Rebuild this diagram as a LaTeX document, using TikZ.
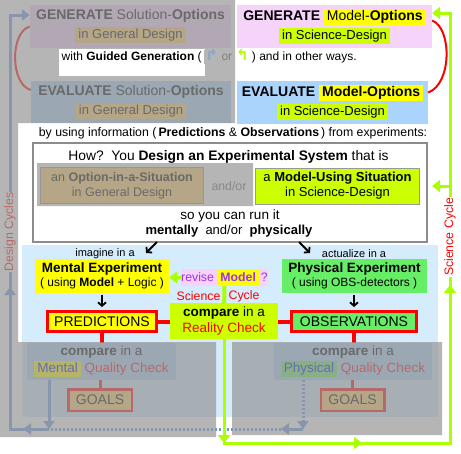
\documentclass[tikz,border=0pt]{standalone}
\usepackage{fontspec}
\setmainfont{Liberation Sans}
\newfontfamily\symfont{DejaVu Sans}
\usetikzlibrary{arrows.meta,positioning}
\definecolor{genpink}{RGB}{246,212,250}
\definecolor{evalblue}{RGB}{170,212,252}
\definecolor{hiyellow}{RGB}{255,255,0}
\definecolor{scilime}{RGB}{204,255,0}
\definecolor{cycgreen}{RGB}{170,255,0}
\definecolor{physgreen}{RGB}{102,238,102}
\definecolor{panelblue}{RGB}{212,236,252}
\definecolor{gentan}{RGB}{255,205,100}
\definecolor{dsnblue}{RGB}{100,150,230}
\definecolor{dsnveil}{RGB}{140,165,205}
\definecolor{revpink}{RGB}{248,210,250}
\definecolor{revpurple}{RGB}{160,50,235}
\definecolor{veil}{RGB}{150,150,150}
\newcommand{\bodytxt}{\fontsize{13.5}{17}\selectfont}
\newcommand{\linetxt}{\fontsize{12.3}{15}\selectfont}
\newcommand{\smalltxt}{\fontsize{11}{13}\selectfont}
\newcommand{\arrowtxt}{\symfont\bfseries\fontsize{15}{15}\selectfont}
\newcommand{\hlbox}[2]{{\setlength{\fboxsep}{1pt}\colorbox{#1}{\rule[-3.5pt]{0pt}{14pt}\hspace{2pt}#2\hspace{2pt}}}}
\tikzset{basic/.style={inner sep=0pt,align=center}}
\tikzset{genbox/.style={basic,fill=genpink,minimum height=43pt,font=\fontsize{14}{19}\selectfont}}
\tikzset{evalbox/.style={basic,fill=evalblue,minimum height=43pt,font=\fontsize{14}{19}\selectfont}}
\tikzset{sitbox/.style={basic,draw=black!40,line width=1pt,minimum height=36pt,font=\fontsize{13}{15}\selectfont}}
\tikzset{expbox/.style={basic,minimum height=34pt,font=\fontsize{13.5}{14}\selectfont}}
\tikzset{result/.style={basic,draw=red,line width=3pt,minimum height=20pt,font=\fontsize{14}{16}\selectfont}}
\tikzset{check/.style={basic,fill=evalblue,minimum height=37pt,font=\fontsize{13.5}{16.5}\selectfont}}
\tikzset{goal/.style={basic,draw=red,line width=2.5pt,fill=gentan,minimum width=63.5pt,minimum height=21.5pt,font=\fontsize{14}{16}\selectfont}}
\tikzset{note/.style={inner sep=0pt}}
\tikzset{gline/.style={inner sep=1.5pt,text height=9pt,text depth=2.5pt,font=\fontsize{12}{15}\selectfont}}
\tikzset{link/.style={draw=red,line width=4pt}}
\tikzset{arrow/.style={draw,line width=1.8pt,>={Straight Barb[length=3.5pt,width=8pt]}}}
\tikzset{sci/.style={draw=cycgreen,line width=3pt,>={Triangle[length=8pt,width=12pt]}}}
\tikzset{dsn/.style={draw=dsnblue,line width=3pt,>={Triangle[length=8pt,width=11pt]}}}
\tikzset{cycname/.style={rotate=90,fill=white,inner sep=1pt,font=\linetxt}}
\tikzset{veiled/.style={fill=veil,fill opacity=0.7}}
\begin{document}
\begin{tikzpicture}[x=1pt,y=-1pt,font=\bodytxt]
\useasboundingbox (0,0) rectangle (461,453);
\fill[white] (0,0) rectangle (461,453);
\fill[panelblue] (22,245) rectangle (438,417);

% generate and evaluate
\node[genbox,minimum width=201pt] (gso) at (130.5,26.5) {\textbf{GENERATE} Solution-\textbf{Options}\\{\fontsize{13}{19}\selectfont\hlbox{gentan}{in General Design}}};
\node[genbox,minimum width=195pt] (gmo) at (334.5,26.5) {\textbf{GENERATE} \hlbox{hiyellow}{Model-\textbf{Options}}\\{\fontsize{13}{19}\selectfont\hlbox{scilime}{in Science-Design}}};
\node[evalbox,minimum width=200pt,minimum height=42pt] (eso) at (131,102) {\textbf{EVALUATE} Solution-\textbf{Options}\\{\fontsize{13}{19}\selectfont\hlbox{gentan}{in General Design}}};
\node[evalbox,minimum width=191pt] (emo) at (332.5,102.5) {\textbf{EVALUATE} \hlbox{hiyellow}{\textbf{Model-Options}}\\{\fontsize{13}{19}\selectfont\hlbox{scilime}{in Science-Design}}};
\draw[red,line width=2pt] (gso.west) .. controls (10,32) and (10,84) .. ([yshift=12pt]eso.west);
\draw[red,line width=2pt] ([yshift=6pt]gmo.east) .. controls (452,28) and (452,84) .. ([yshift=10pt]emo.east);

\node[note,font=\linetxt] (info) at (233,133) {by using information (\,\textbf{Predictions} \& \textbf{Observations}\,) from experiments:};

% experimental system
\node[basic,draw=black!45,line width=2pt,fill=white,minimum width=394pt,minimum height=99pt] (sys) at (230,192.5) {};
\node[note,font=\fontsize{13.8}{16}\selectfont] (how) at (228.5,157) {How?\ \ You \textbf{Design an Experimental System} that is};
\node[sitbox,fill=gentan,minimum width=163pt,font=\fontsize{12.5}{15}\selectfont] (opt) at (122,185.5) {an \textbf{Option-in-a-Situation}\\in General Design};
\node[note,font=\linetxt,text=black!60] (andor) at (229,186) {and/or};
\node[sitbox,fill=scilime,minimum width=164pt] (mus) at (337.5,186) {a \textbf{Model-Using Situation}\\in Science-Design};
\node[note] (run1) at (230,216) {so you can run it};
\node[note,font=\fontsize{13}{15}\selectfont] (run2) at (229,231) {\textbf{mentally}\ \ and/or\ \ \textbf{physically}};

% experiments
\node[note,font=\smalltxt] (imagine) at (105,254) {imagine in a};
\node[note,font=\smalltxt] (actualize) at (354,254) {actualize in a};
\coordinate (imgfrom) at (157,242);
\coordinate (imgto) at (146,253);
\coordinate (actfrom) at (299,242);
\coordinate (actto) at (310,253);
\path[arrow,->] (imgfrom) -- (imgto);
\path[arrow,->] (actfrom) -- (actto);
\node[expbox,fill=hiyellow,minimum width=134pt] (mexp) at (102,276) {\textbf{Mental Experiment}\\{\fontsize{12}{14}\selectfont ( using \textbf{Model} + Logic )}};
\node[expbox,fill=physgreen,minimum width=145pt] (pexp) at (354.5,276) {\textbf{Physical Experiment}\\{\fontsize{12}{14}\selectfont ( using OBS-detectors )}};
\node[result,fill=hiyellow,minimum width=109pt] (pred) at (102,321.5) {PREDICTIONS};
\node[result,fill=physgreen,minimum width=125pt] (obs) at (354,321.5) {OBSERVATIONS};
\path[arrow,->,shorten <=2pt,shorten >=3pt] (mexp) -- (pred);
\path[arrow,->,shorten <=2pt,shorten >=3pt] (pexp.south -| obs) -- (obs);

% reality check
\node[basic,fill=scilime,minimum width=108pt,minimum height=36pt,font=\fontsize{13.5}{16}\selectfont] (cmp) at (224,321) {\textbf{compare} in a\\\textcolor{red}{Reality Check}};
\node[basic,fill=revpink,minimum width=87pt,minimum height=17pt,font=\linetxt,text=revpurple] (rev) at (224.5,277.5) {revise \hlbox{hiyellow}{\textbf{Model}}\,?};
\node[note,text=red,font=\linetxt] (sciw) at (198.5,296) {Science};
\node[note,text=red,font=\linetxt] (cycw) at (244,296) {Cycle};
\draw[sci,line width=4pt] (rev) -- (cmp);
\draw[sci,->] (rev.west) -- (rev.west -| mexp.east);
\draw[link] (pred.east) -- (pred.east -| cmp.west);
\draw[link] (cmp.east |- obs.west) -- (obs.west);

% quality checks
\node[check,minimum width=149pt] (cmpm) at (101.5,361.5) {\textbf{compare} in a\\\hlbox{hiyellow}{\textcolor{blue}{Mental}} \textcolor{red}{Quality Check}};
\node[goal] (goalm) at (100,400) {GOALS};
\node[check,minimum width=158pt] (cmpp) at (353,361.5) {\textbf{compare} in a\\\hlbox{physgreen}{\textcolor{blue}{Physical}} \textcolor{red}{Quality Check}};
\node[goal] (goalp) at (352.5,400) {GOALS};
\draw[link] (pred.south) -- (pred.south |- cmpm.north);
\draw[link] (obs.south) -- (obs.south |- cmpp.north);
\draw[link,line width=3pt] (cmpm.south -| goalm.north) -- (goalm.north);
\draw[link,line width=3pt] (cmpp.south -| goalp.north) -- (goalp.north);

% design cycles
\coordinate (dm) at (49,429);
\coordinate (dl) at (10,429);
\coordinate (dt) at (10,15);
\coordinate (dp) at (303,429);
\coordinate (dlarr) at (23,429);
\coordinate (duarr) at (10,287);
\coordinate (dparr) at (281,429);
\draw[dsn,->] (dm) -- (dl) -- (dt) -- (gso.west |- dt);
\draw[dsn,->] (dm) -- (dlarr);
\draw[dsn,->] (dl) -- (duarr);
\draw[dsn,->] (cmpm.south -| dm) -- (dm);
\draw[dsn,dash pattern=on 2pt off 2pt] (dparr) -- (dm);
\draw[dsn,->] (dp) -- (dparr);
\draw[dsn,->,dash pattern=on 2pt off 2pt] (cmpp.south -| dp) -- (dp);
\node[cycname,text=red] (dsnname) at (10,232) {Design Cycles};

% science cycle
\coordinate (sc1) at (224,443);
\coordinate (sc2) at (450,443);
\coordinate (sc3) at (450,13);
\coordinate (scarr1) at (362,443);
\coordinate (scarr2) at (450,285);
\coordinate (scbr) at (450,186);
\draw[sci,->] (cmp.south) -- (sc1) -- (sc2) -- (sc3) -- (gmo.east |- sc3);
\draw[sci,->] (cmp.south) -- (sc1);
\draw[sci,->] (sc1) -- (scarr1);
\draw[sci,->] (sc2) -- (scarr2);
\draw[sci,->,shorten >=4pt] (scbr) -- (sys.east |- scbr);
\node[cycname,text=red] (sciname) at (450,237) {Science Cycle};

% grey veil over the design side
\fill[veiled] (0,0) rectangle (235,123) (0,123) rectangle (18,437) (18,342) rectangle (216,437) (232,342) rectangle (442,435) (37,163) rectangle (253,206);

% guided generation line
\fill[white] (59,49) rectangle (205,76);
\node[gline,anchor=west] (g1) at (60,57) {with \textbf{Guided Generation} (};
\node[gline,right=0.5pt of g1,fill=black!29,text=black!50] (g2) {{\arrowtxt\textcolor{dsnveil}{↱}} or};
\node[gline,right=0.5pt of g2] (g3) {{\arrowtxt\textcolor{cycgreen}{↰}} ) and in other ways.};
\end{tikzpicture}
\end{document}
